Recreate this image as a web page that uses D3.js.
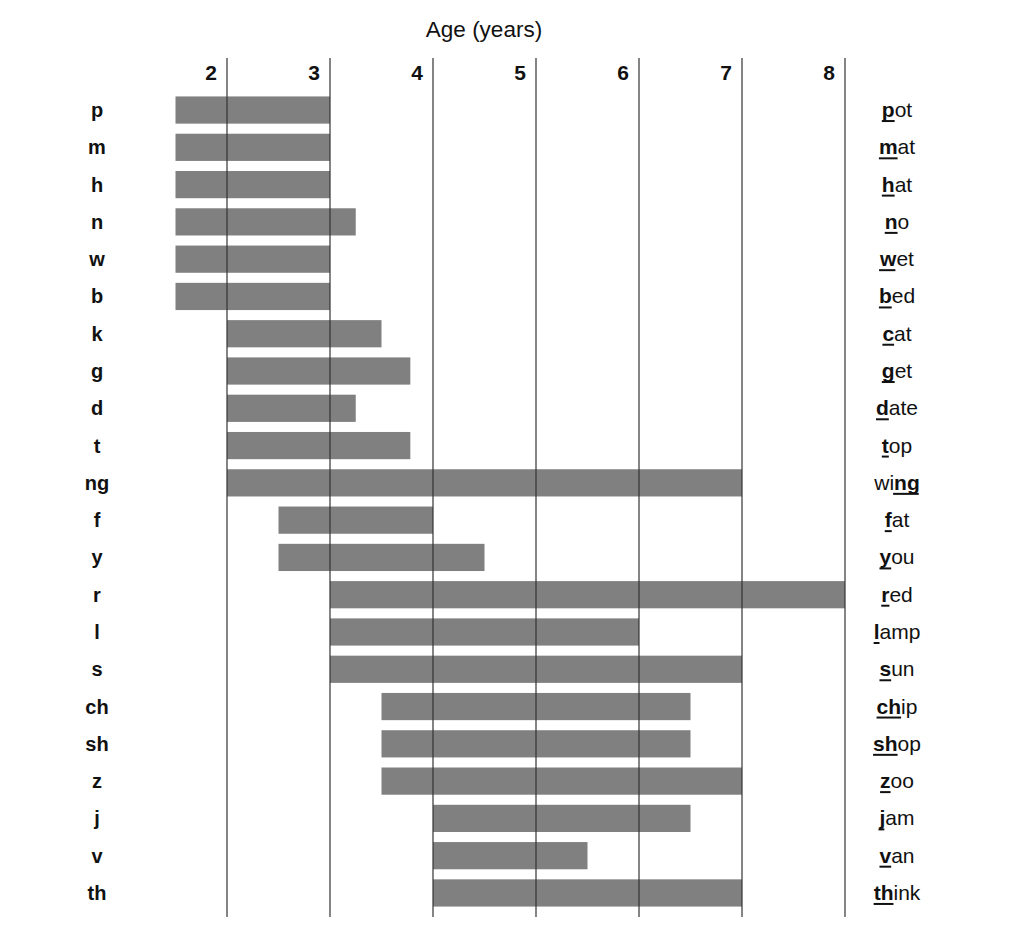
<!DOCTYPE html>
<html><head><meta charset="utf-8">
<script src="https://cdn.jsdelivr.net/npm/d3@7"></script>
<style>body{margin:0;background:#fff}svg{display:block;font-family:"Liberation Sans",Arial,sans-serif}</style>
</head><body>
<svg id="c" width="1024" height="939"></svg>
<script>
const phonemes = ["p","m","h","n","w","b","k","g","d","t","ng","f","y","r","l","s","ch","sh","z","j","v","th"];
const startAge = [1.5,1.5,1.5,1.5,1.5,1.5,2,2,2,2,2,2.5,2.5,3,3,3,3.5,3.5,3.5,4,4,4];
const endAge   = [3,3,3,3.25,3,3,3.5,3.78,3.25,3.78,7,4,4.5,8,6,7,6.5,6.5,7,6.5,5.5,7];
const wordPre  = ["","","","","","","","","","","wi","","","","","","","","","","",""];
const wordKey  = ["p","m","h","n","w","b","c","g","d","t","ng","f","y","r","l","s","ch","sh","z","j","v","th"];
const wordPost = ["ot","at","at","o","et","ed","at","et","ate","op","","at","ou","ed","amp","un","ip","op","oo","am","an","ink"];
const ageTicks = [2,3,4,5,6,7,8];

const svg = d3.select("#c");
const x = d3.scaleLinear().domain([2,8]).range([227,845]);
const y = d3.scaleBand().domain(phonemes).range([91.4,911.6]).paddingInner(0.27).paddingOuter(0.135);

svg.append("text").attr("x",484).attr("y",37).attr("text-anchor","middle")
  .attr("font-size",22.5).attr("fill","#111").text("Age (years)");

svg.append("g").selectAll("rect").data(phonemes).join("rect")
  .attr("x",(d,i)=>x(startAge[i])).attr("width",(d,i)=>x(endAge[i])-x(startAge[i]))
  .attr("y",d=>y(d)).attr("height",y.bandwidth()).attr("fill","#808080");

svg.append("g").selectAll("line").data(ageTicks).join("line")
  .attr("x1",d=>x(d)).attr("x2",d=>x(d)).attr("y1",58).attr("y2",917)
  .attr("stroke","#333").attr("stroke-width",1.2);

svg.append("g").selectAll("text").data(ageTicks).join("text")
  .attr("x",d=>x(d)-10).attr("y",80).attr("text-anchor","end")
  .attr("font-size",21).attr("font-weight","bold").attr("fill","#111").text(d=>d);

svg.append("g").selectAll("text").data(phonemes).join("text")
  .attr("x",97).attr("y",d=>y(d)+y.bandwidth()/2+7).attr("text-anchor","middle")
  .attr("font-size",20).attr("font-weight","bold").attr("fill","#111").text(d=>d);

const wg = svg.append("g");
phonemes.forEach((p,i)=>{
  const cy = y(p)+y.bandwidth()/2+7;
  const t = wg.append("text").attr("x",897).attr("y",cy).attr("text-anchor","middle")
    .attr("font-size",21).attr("fill","#111");
  t.append("tspan").text(wordPre[i]);
  t.append("tspan").attr("font-weight","bold").text(wordKey[i]);
  t.append("tspan").text(wordPost[i]);
  const node = t.node();
  const bb = node.getBBox();
  const pre = wordPre[i].length;
  const startX = bb.x + (pre? node.getSubStringLength(0,pre):0);
  const w = node.getSubStringLength(pre, wordKey[i].length);
  wg.append("line").attr("x1",startX).attr("x2",startX+w).attr("y1",cy+4).attr("y2",cy+4)
    .attr("stroke","#111").attr("stroke-width",2);
});
</script>
</body></html>
